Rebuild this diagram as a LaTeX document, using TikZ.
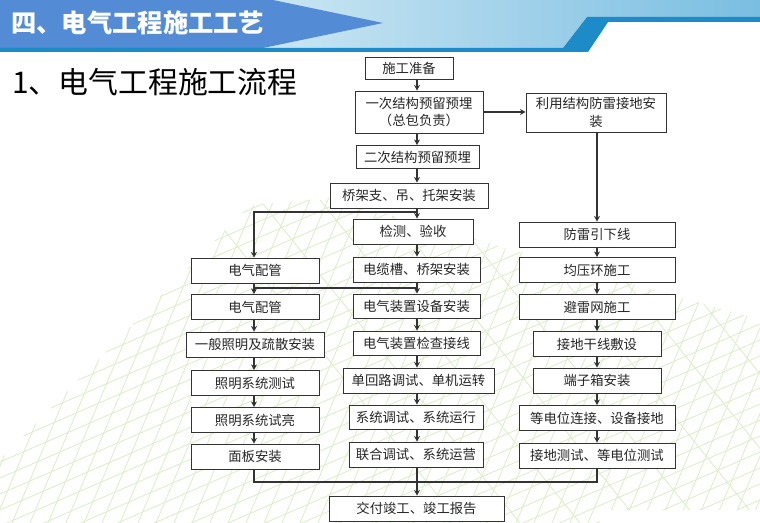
\documentclass[tikz,border=0pt]{standalone}
\usepackage{fontspec}
\newfontfamily\cjk{Noto Sans CJK SC}
\usetikzlibrary{arrows.meta}
\definecolor{hdblue}{RGB}{83,140,213}
\definecolor{hdline}{RGB}{29,139,200}
\definecolor{hdlight}{RGB}{203,230,243}
\definecolor{hdlightb}{RGB}{122,190,225}
\definecolor{meshgreen}{RGB}{222,237,202}
\tikzset{
  box/.style={draw=black!80, fill=white, line width=0.5pt, inner sep=1pt, align=center,
    text=black!85, font=\cjk\fontsize{7.6}{10}\selectfont, minimum height=0.5cm},
  link/.style={draw=black!80, line width=0.6pt},
  arr/.style={link, -{Stealth[length=3.2pt,width=3.4pt]}},
  mesh/.style={meshgreen, line width=0.5pt}
}
\begin{document}
\begin{tikzpicture}[x=0.02cm, y=-0.02cm]
\useasboundingbox (0,0) rectangle (760,523);
% faint mesh in the background
\begin{scope}
  \clip (0,523) -- (0,460) -- (250,205) -- (330,198) -- (760,320) -- (760,510) -- (600,510) -- (600,523) -- cycle;
  \foreach \i in {-420,-402,...,760} \draw[mesh] (\i,523) -- (\i+140,190);
  \foreach \j in {190,206,...,960} \draw[mesh] (0,\j) -- (760,\j-330);
  \foreach \i in {200,260,...,760} \draw[mesh] (\i,200) -- (\i+260,523);
\end{scope}
% header band
\shade[left color=hdlight, right color=hdlightb] (263,0) -- (760,0) -- (760,17) -- (587,17) -- (563,48) -- (263,48) -- cycle;
\fill[hdblue] (0,0) -- (273,0) -- (383,23) -- (263,48) -- (0,48) -- cycle;
\fill[hdline] (0,48) -- (563,48) -- (587,17) -- (760,17) -- (760,22) -- (608,22) -- (588,52) -- (0,52) -- cycle;
\node[anchor=west, text=white, font=\cjk\bfseries\fontsize{14.4}{16}\selectfont] (title) at (5,23) {四、电气工程施工工艺};
\node[anchor=west, font=\cjk\fontsize{17}{20}\selectfont] (sub) at (6,82) {1、电气工程施工流程};

% middle column
\node[box, minimum width=1.76cm, minimum height=0.44cm] (zb) at (409,68) {施工准备};
\node[box, minimum width=2.56cm, minimum height=0.84cm] (yc) at (419,112) {一次结构预留预埋\\（总包负责）};
\node[box, minimum width=2.46cm, minimum height=0.46cm] (ec) at (417.5,157) {二次结构预留预埋};
\node[box, minimum width=3.16cm] (qj) at (409,195.5) {桥架支、吊、托架安装};
\node[box, minimum width=2.4cm] (jc) at (413,231.5) {检测、验收};
\node[box, minimum width=2.54cm] (dl) at (416.5,269.5) {电缆槽、桥架安装};
\node[box, minimum width=2.54cm, minimum height=0.48cm] (sb) at (416.5,306) {电气装置设备安装};
\node[box, minimum width=2.54cm, minimum height=0.48cm] (jx) at (416.5,343) {电气装置检查接线};
\node[box, minimum width=3.02cm] (dh) at (418.5,380.5) {单回路调试、单机运转};
\node[box, minimum width=2.68cm, minimum height=0.48cm] (xt) at (416,417) {系统调试、系统运行};
\node[box, minimum width=2.68cm] (lh) at (416,454.5) {联合调试、系统运营};
\node[box, minimum width=3.5cm] (jf) at (416.5,508.5) {交付竣工、竣工报告};

% left column
\node[box, minimum width=2.56cm] (pg1) at (255,270.5) {电气配管};
\node[box, minimum width=2.56cm] (pg2) at (255,307) {电气配管};
\node[box, minimum width=2.76cm] (zm) at (255,344.5) {一般照明及疏散安装};
\node[box, minimum width=2.56cm] (cs) at (255,383) {照明系统测试};
\node[box, minimum width=2.56cm] (sl) at (255,420) {照明系统试亮};
\node[box, minimum width=2.56cm] (mb) at (255,456.5) {面板安装};

% right column
\node[box, minimum width=2.8cm, minimum height=0.78cm] (ly) at (596,112.5) {利用结构防雷接地安\\装};
\node[box, minimum width=3.12cm] (yx) at (597,234.5) {防雷引下线};
\node[box, minimum width=3.12cm] (jy) at (597,270) {均压环施工};
\node[box, minimum width=3.12cm] (bl) at (597,307) {避雷网施工};
\node[box, minimum width=2.56cm] (gx) at (597,344) {接地干线敷设};
\node[box, minimum width=2.56cm] (dz) at (597,380.5) {端子箱安装};
\node[box, minimum width=3.12cm] (dd) at (597,418) {等电位连接、设备接地};
\node[box, minimum width=3.12cm] (jd) at (597,455.5) {接地测试、等电位测试};

% connectors
\coordinate (mid) at (417,0);
\coordinate (lft) at (254,0);
\coordinate (rgt) at (597,0);
\foreach \a/\b in {zb/yc, yc/ec, ec/qj, qj/jc, jc/dl, dl/sb, sb/jx, jx/dh, dh/xt, xt/lh, lh/jf}
  \draw[arr] (\a.south -| mid) -- (\b.north -| mid);
\foreach \a/\b in {pg1/pg2, pg2/zm, zm/cs, cs/sl, sl/mb}
  \draw[arr] (\a.south -| lft) -- (\b.north -| lft);
\foreach \a/\b in {ly/yx, yx/jy, jy/bl, bl/gx, gx/dz, dz/dd, dd/jd}
  \draw[arr] (\a.south -| rgt) -- (\b.north -| rgt);
\draw[arr] (yc.east) -- (yc.east -| ly.west);
\coordinate (br1) at (417,212);
\draw[arr] (br1) -| (pg1.north -| lft);
\coordinate (br2) at (254,288);
\draw[link] (br2) -- (br2 -| mid);
\coordinate (br3) at (0,482);
\draw[link] (mb.south -| lft) |- (br3 -| rgt) -- (jd.south -| rgt);
\end{tikzpicture}
\end{document}
